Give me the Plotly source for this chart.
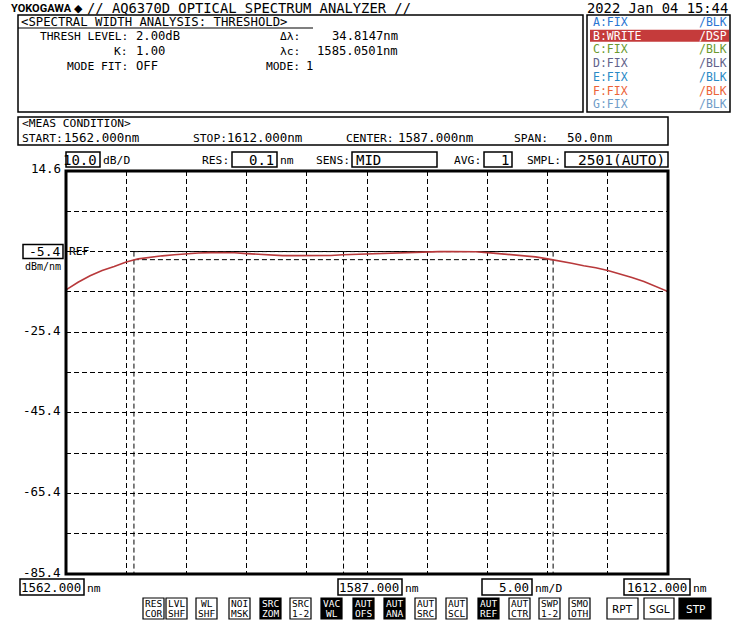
import plotly.graph_objects as go

# ---------------- data ----------------
wavelength_nm = list(range(1562, 1613))
level_dbm = [
    -14.9, -13.0, -11.4, -10.1, -9.1, -8.0, -7.2, -6.8, -6.45, -6.2,
    -5.95, -5.75, -5.65, -5.6, -5.7, -5.9, -6.1, -6.3, -6.4, -6.4,
    -6.4, -6.4, -6.35, -6.2, -6.1, -5.95, -5.8, -5.65, -5.55, -5.5,
    -5.45, -5.4, -5.4, -5.4, -5.45, -5.65, -5.9, -6.2, -6.4, -6.7,
    -7.2, -7.7, -8.3, -8.9, -9.4, -10.1, -10.9, -11.8, -12.8, -14.0,
    -15.3,
]
y_tick_values = [14.6, -5.4, -25.4, -45.4, -65.4, -85.4]
y_tick_labels = ["14.6", "-5.4", "-25.4", "-45.4", "-65.4", "-85.4"]
start_nm, center_nm, stop_nm = 1562.0, 1587.0, 1612.0
span_nm = 50.0
ref_level = -5.4
level_scale = 10.0
thresh_db = 2.00
k_value = 1.00
delta_lambda = 34.8147
lambda_c = 1585.0501
trace_names = ["A:FIX", "B:WRITE", "C:FIX", "D:FIX", "E:FIX", "F:FIX", "G:FIX"]
trace_modes = ["/BLK", "/DSP", "/BLK", "/BLK", "/BLK", "/BLK", "/BLK"]
trace_colors = ["#2a76d2", "#ffffff", "#6b9a2e", "#62628a", "#2a8ac6", "#ec6438", "#6f9cc8"]
softkey_top = ["RES", "LVL", "WL", "NOI", "SRC", "SRC", "VAC", "AUT", "AUT", "AUT", "AUT", "AUT", "AUT", "SWP", "SMO"]
softkey_bottom = ["COR", "SHF", "SHF", "MSK", "ZOM", "1-2", "WL", "OFS", "ANA", "SRC", "SCL", "REF", "CTR", "1-2", "OTH"]
softkey_active = [0, 0, 0, 0, 1, 0, 1, 1, 1, 0, 0, 1, 0, 0, 0]
sweep_keys = ["RPT", "SGL", "STP"]
sweep_active = [0, 0, 1]

# ---------------- geometry (page pixel coordinates) ----------------
W, H = 738, 638
L, R, T, B = 66, 668, 171, 574
MONO = "DejaVu Sans Mono"


def X(p):
    return (p - L) / (R - L)


def Y(p):
    return (B - p) / (B - T)


ann = []
shapes = []


def txt(x, y, s, size=12, anchor="left", color="black", family=MONO, bold=False):
    if bold:
        s = "<b>" + s + "</b>"
    ann.append(dict(x=X(x), y=Y(y), xref="paper", yref="paper", text=s, showarrow=False,
                    xanchor=anchor, yanchor="middle", borderpad=0,
                    font=dict(family=family, size=size, color=color)))


def rect(x0, y0, x1, y1, lw=1.0, fill="rgba(0,0,0,0)", color="black"):
    shapes.append(dict(type="rect", xref="paper", yref="paper", x0=X(x0), x1=X(x1),
                       y0=Y(y1), y1=Y(y0), line=dict(color=color, width=lw),
                       fillcolor=fill, layer="above"))


def hline(x0, x1, y, lw=1.0):
    shapes.append(dict(type="line", xref="paper", yref="paper", x0=X(x0), x1=X(x1),
                       y0=Y(y), y1=Y(y), line=dict(color="black", width=lw), layer="above"))


DASH = "5px,3px"
LAB = 11.3   # small label font
VAL = 14     # value font
BOXVAL = 12.2

# ---------------- header ----------------
txt(10, 8, "YOKOGAWA", 11, family="Roboto", bold=True)
txt(73, 8, "◆", 11, family="DejaVu Sans")
txt(86, 8, "// AQ6370D OPTICAL SPECTRUM ANALYZER //", 13.8)
txt(729, 8, "2022 Jan 04 15:44", 13.8, anchor="right")

# analysis box
rect(18, 15, 583, 112, 1.5)
hline(18, 313, 28, 1.2)
txt(20, 22, "&lt;SPECTRAL WIDTH ANALYSIS: THRESHOLD&gt;", 12.3)
row_top = [36, 51, 66]
for yy, lab, val in zip(row_top, ["THRESH LEVEL:", "K:", "MODE FIT:"],
                        [f"{thresh_db:.2f}dB", f"{k_value:.2f}", "OFF"]):
    txt(129, yy + 0.5, lab, LAB, anchor="right")
    txt(135, yy, val, BOXVAL)
txt(301, row_top[0] + 0.5, "Δλ:", LAB, anchor="right")
txt(399, row_top[0], f"{delta_lambda:.4f}nm", BOXVAL, anchor="right")
txt(301, row_top[1] + 0.5, "λc:", LAB, anchor="right")
txt(399, row_top[1], f"{lambda_c:.4f}nm", BOXVAL, anchor="right")
txt(301, row_top[2] + 0.5, "MODE:", LAB, anchor="right")
txt(305, row_top[2], "1", BOXVAL)

# trace legend box
rect(587, 15, 730, 112, 1.5)
row_y = [22 + 13.7 * i for i in range(len(trace_names))]
rect(590, row_y[1] - 6, 729, row_y[1] + 6, 0, fill="#c53b3b", color="#c53b3b")
for yy, nm, md, col in zip(row_y, trace_names, trace_modes, trace_colors):
    txt(592, yy, nm, 11.5, color=col)
    txt(728, yy, md, 11.5, anchor="right", color=col)

# measure condition box
rect(18, 117, 668, 145, 1.5)
txt(21, 123.5, "&lt;MEAS CONDITION&gt;", LAB)
txt(21, 138, "START:", LAB)
txt(63, 137, f"{start_nm:.3f}nm", 12.5)
txt(192, 138, "STOP:", LAB)
txt(226, 137, f"{stop_nm:.3f}nm", 12.5)
txt(345, 138, "CENTER:", LAB)
txt(397, 137, f"{center_nm:.3f}nm", 12.5)
txt(513, 138, "SPAN:", LAB)
txt(566, 137, f"{span_nm:.1f}nm", 12.5)

# settings row
rect(66, 152, 100, 167, 1.5)
txt(98, 159.5, f"{level_scale:.1f}", VAL, anchor="right")
txt(102, 160.5, "dB/D", LAB)
txt(230, 160.5, "RES:", LAB, anchor="right")
rect(232, 152, 277, 167, 1.5)
txt(275, 159.5, "0.1", VAL, anchor="right")
txt(279, 160.5, "nm", LAB)
txt(351, 160.5, "SENS:", LAB, anchor="right")
rect(352, 152, 437, 167, 1.5)
txt(355, 159.5, "MID", VAL)
txt(482, 160.5, "AVG:", LAB, anchor="right")
rect(484, 152, 512, 167, 1.5)
txt(510, 159.5, "1", VAL, anchor="right")
txt(562, 160.5, "SMPL:", LAB, anchor="right")
rect(565, 152, 668, 167, 1.5)
txt(666, 159.5, "2501(AUTO)", 14.5, anchor="right")

# y tick labels
for v, lab in zip(y_tick_values, y_tick_labels):
    py = B - (v - (-85.4)) / 100.0 * (B - T)
    if lab == "-5.4":
        rect(23, py - 7, 63, py + 7, 1.5)
        txt(61, py, lab, 13, anchor="right")
        txt(68, py, "REF", LAB)
        txt(43, py + 15, "dBm/nm", 10, anchor="center")
    else:
        txt(62, py - 2, lab, 12.5, anchor="right")

# bottom wavelength labels
rect(20, 579, 84, 595, 1.5)
txt(82, 587, f"{start_nm:.3f}", 12.5, anchor="right")
txt(86, 588, "nm", LAB)
rect(338, 579, 402, 595, 1.5)
txt(400, 587, f"{center_nm:.3f}", 12.5, anchor="right")
txt(404, 588, "nm", LAB)
rect(482, 579, 532, 595, 1.5)
txt(530, 587, f"{span_nm / 10:.2f}", 12.5, anchor="right")
txt(534, 588, "nm/D", LAB)
rect(624, 579, 690, 595, 1.5)
txt(688, 587, f"{stop_nm:.3f}", 12.5, anchor="right")
txt(692, 588, "nm", LAB)

# soft keys
key_left = [143, 166, 196, 229, 260, 290, 321, 353, 384, 415, 446, 478, 509, 539, 569]
for kx, t1, t2, act in zip(key_left, softkey_top, softkey_bottom, softkey_active):
    fill = "black" if act else "white"
    col = "white" if act else "black"
    rect(kx, 598, kx + 21, 619, 1.2, fill=fill)
    txt(kx + 10.5, 603.5, t1, 9.5, anchor="center", color=col)
    txt(kx + 10.5, 613.5, t2, 9.5, anchor="center", color=col)
sweep_left = [607, 644, 679]
sweep_w = [31, 30, 32]
for kx, kw, t, act in zip(sweep_left, sweep_w, sweep_keys, sweep_active):
    fill = "black" if act else "white"
    col = "white" if act else "black"
    rect(kx, 598, kx + kw, 619, 1.2, fill=fill)
    txt(kx + kw / 2, 608.5, t, 10.5, anchor="center", color=col, family="DejaVu Sans")

# analysis markers (data coordinates)
lam1 = lambda_c - delta_lambda / 2
lam2 = lambda_c + delta_lambda / 2
for lx in (lam1, lambda_c, lam2):
    shapes.append(dict(type="line", xref="x", yref="y", x0=lx, x1=lx, y0=ref_level, y1=-85.4,
                       line=dict(color="black", width=1, dash=DASH), layer="between"))
for ly in (ref_level, ref_level - thresh_db):
    shapes.append(dict(type="line", xref="x", yref="y", x0=lam1, x1=lam2, y0=ly, y1=ly,
                       line=dict(color="black", width=1, dash=DASH), layer="between"))

# plot frame
rect(L, T, R, B, 3)

fig = go.Figure()
fig.add_trace(go.Scatter(x=wavelength_nm, y=level_dbm, mode="lines",
                         line=dict(color="#b8393b", width=1.6), hoverinfo="skip"))
fig.update_layout(
    width=W, height=H,
    margin=dict(l=L, r=W - R, t=T, b=H - B, pad=0),
    paper_bgcolor="white", plot_bgcolor="white",
    showlegend=False,
    xaxis=dict(range=[start_nm, stop_nm], tick0=start_nm, dtick=span_nm / 10,
               showgrid=True, gridcolor="black", gridwidth=1, griddash=DASH,
               showticklabels=False, ticks="", zeroline=False, showline=False, fixedrange=True),
    yaxis=dict(range=[-85.4, 14.6], tick0=-85.4, dtick=level_scale,
               showgrid=True, gridcolor="black", gridwidth=1, griddash=DASH,
               showticklabels=False, ticks="", zeroline=False, showline=False, fixedrange=True),
    annotations=ann, shapes=shapes,
)
fig.write_html("out.html", config={"displayModeBar": False},
               post_script="document.body.style.margin='0px';")
